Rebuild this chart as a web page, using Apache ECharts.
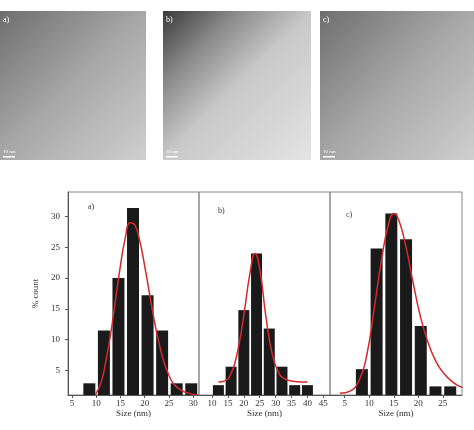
<!DOCTYPE html>
<html><head><meta charset="utf-8">
<script src="https://cdn.jsdelivr.net/npm/echarts@6/dist/echarts.min.js"></script>
<style>html,body{margin:0;background:#fff}#c{width:474px;height:430px}</style>
</head><body><div id="c"></div>
<script>
var chart = echarts.init(document.getElementById('c'));

// histogram bins (centre, % count)
var barsA = [[8.6, 2.9], [11.6, 11.5], [14.6, 20], [17.6, 31.4], [20.6, 17.2], [23.6, 11.5], [26.6, 2.9], [29.6, 2.9]];
var barsB = [[12, 2.6], [16, 5.6], [20, 14.8], [24, 24], [28, 11.8], [32, 5.6], [36, 2.6], [40, 2.6]];
var barsC = [[8.5, 5.2], [11.5, 24.8], [14.5, 30.5], [17.5, 26.3], [20.5, 12.2], [23.5, 2.4], [26.5, 2.4]];
// fitted curves
var fitA = [[9.8, 1], [11, 3], [12, 6.5], [13, 11], [14, 16.5], [15, 22], [16, 26.5], [17, 29], [18, 28.6], [19, 26], [20, 22], [21, 17.5], [22, 13], [23, 9.3], [24, 6.3], [25, 4.2], [26, 2.8], [27.5, 1.8], [29, 1.3], [31, 1]];
var fitB = [[12, 3.1], [14, 3.3], [16, 4.5], [18, 8], [20, 14], [22, 21], [23.5, 24], [25, 21.5], [27, 13.5], [29, 7.5], [31, 4.6], [33, 3.6], [36, 3.2], [40, 3.1]];
var fitC = [[4, 1.3], [6, 1.6], [8, 3.5], [9.5, 7.5], [11, 15], [12.5, 23], [14, 29], [15, 30.5], [16, 29.5], [17.5, 25], [19, 19], [20.5, 13.5], [22, 9.5], [23.5, 6.6], [25, 4.7], [27, 3.1], [29, 2.2]];
var yTicks = [5, 10, 15, 20, 25, 30];
var ticksA = [5, 10, 15, 20, 25, 30];
var ticksB = [10, 15, 20, 25, 30, 35, 40, 45];
var ticksC = [5, 10, 15, 20, 25];
var xRanges = [[4.2, 31.2], [5.9, 47.1], [2, 28.9]];
var panelLabels = ['a)', 'b)', 'c)'];

var serif = 'Liberation Serif';
var lefts = [68, 199, 330], widths = [131, 131, 132];
var grids = [], xAxes = [], yAxes = [], series = [];
var bars = [barsA, barsB, barsC], fits = [fitA, fitB, fitC], xt = [ticksA, ticksB, ticksC];
var bw = [12, 11, 12];
for (var i = 0; i < 3; i++) {
  grids.push({left: lefts[i], width: widths[i], top: 192, height: 203, show: true, borderColor: '#888', borderWidth: 1});
  xAxes.push({type: 'value', gridIndex: i, min: xRanges[i][0], max: xRanges[i][1],
    name: 'Size (nm)', nameLocation: 'middle', nameGap: 14,
    nameTextStyle: {fontFamily: serif, fontSize: 9, color: '#333'},
    splitLine: {show: false}, axisLine: {lineStyle: {color: '#555'}},
    axisTick: {customValues: xt[i], length: 3, lineStyle: {color: '#555'}},
    axisLabel: {customValues: xt[i], fontFamily: serif, fontSize: 9, color: '#333', margin: 4}});
  yAxes.push({type: 'value', gridIndex: i, min: 1, max: 34, splitLine: {show: false},
    axisLine: {show: i === 0, lineStyle: {color: '#555'}},
    axisTick: {show: i === 0, customValues: yTicks, length: 3, lineStyle: {color: '#555'}},
    axisLabel: {show: i === 0, customValues: yTicks, fontFamily: serif, fontSize: 9, color: '#333'},
    name: i === 0 ? '% count' : '', nameLocation: 'middle', nameGap: 28, nameRotate: 90,
    nameTextStyle: {fontFamily: serif, fontSize: 9, color: '#333'}});
  series.push({type: 'bar', xAxisIndex: i, yAxisIndex: i, data: bars[i], barWidth: bw[i],
    itemStyle: {color: '#1a1a1a'}, silent: true});
  series.push({type: 'line', xAxisIndex: i, yAxisIndex: i, data: fits[i], smooth: true,
    showSymbol: false, lineStyle: {color: '#d42a2a', width: 1.5}, silent: true});
}

// TEM micrograph placeholders
var photos = [[0, 146, 'a)', '10 nm'], [163, 148, 'b)', '20 nm'], [320, 154, 'c)', '10 nm']];
var graphic = [];
photos.forEach(function (p, k) {
  graphic.push({type: 'rect', shape: {x: p[0], y: 11, width: p[1], height: 149},
    style: {fill: new echarts.graphic.LinearGradient(0, 0, 1, 1, k === 1 ?
      [{offset: 0, color: '#3a3a3a'}, {offset: 0.25, color: '#8a8a8a'}, {offset: 0.5, color: '#c8c8c8'}, {offset: 1, color: '#e4e4e4'}] :
      [{offset: 0, color: '#6e6e6e'}, {offset: 0.5, color: '#a8a8a8'}, {offset: 1, color: '#cfcfcf'}])}});
  graphic.push({type: 'text', x: p[0] + 3, y: 16, style: {text: p[2], fontFamily: serif, fontSize: 8, fill: '#fff'}});
  graphic.push({type: 'rect', shape: {x: p[0] + 3, y: 156, width: 12, height: 1.5}, style: {fill: '#fff'}});
  graphic.push({type: 'text', x: p[0] + 3, y: 149, style: {text: p[3], fontFamily: serif, fontSize: 5, fill: '#fff'}});
});
graphic.push({type: 'text', x: 88, y: 203, style: {text: panelLabels[0], fontFamily: serif, fontSize: 8, fill: '#333'}});
graphic.push({type: 'text', x: 218, y: 207, style: {text: panelLabels[1], fontFamily: serif, fontSize: 8, fill: '#333'}});
graphic.push({type: 'text', x: 346, y: 211, style: {text: panelLabels[2], fontFamily: serif, fontSize: 8, fill: '#333'}});

chart.setOption({
  animation: false,
  grid: grids, xAxis: xAxes, yAxis: yAxes, series: series, graphic: graphic
});
</script></body></html>
